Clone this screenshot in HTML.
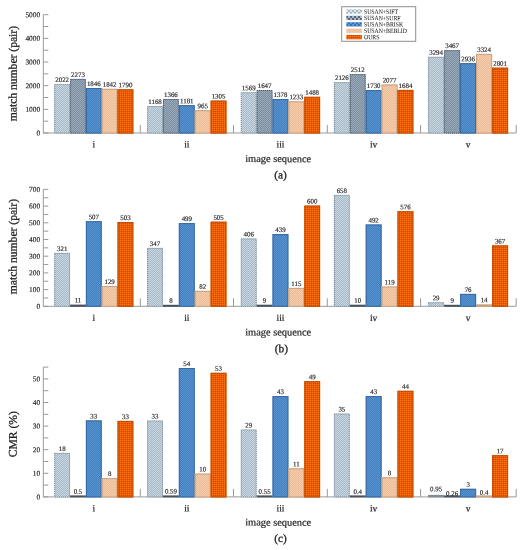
<!DOCTYPE html><html><head><meta charset="utf-8"><title>Bar charts</title><style>html,body{margin:0;padding:0;background:#fff;}svg{display:block;will-change:transform;}</style></head><body>
<svg width="525" height="550" viewBox="0 0 525 550" font-family='"Liberation Serif", serif'>
<defs>
<pattern id="p0" width="2" height="2" patternUnits="userSpaceOnUse"><rect width="2" height="2" fill="#a8bac7"/><rect width="1" height="1" fill="#c8d6e0"/><rect x="1" y="1" width="1" height="1" fill="#c8d6e0"/></pattern>
<pattern id="p1" width="2" height="2" patternUnits="userSpaceOnUse"><rect width="2" height="2" fill="#7d8fa1"/><rect width="1" height="1" fill="#97a8b8"/><rect x="1" y="1" width="1" height="1" fill="#97a8b8"/></pattern>
<pattern id="p2" width="2" height="2" patternUnits="userSpaceOnUse"><rect width="2" height="2" fill="#4280bf"/><rect width="1" height="1" fill="#5893cf"/><rect x="1" y="1" width="1" height="1" fill="#5893cf"/></pattern>
<pattern id="p3" width="2" height="2" patternUnits="userSpaceOnUse"><rect width="2" height="2" fill="#ecbe9a"/><rect width="1" height="1" fill="#f3cbaa"/><rect x="1" y="1" width="1" height="1" fill="#f3cbaa"/></pattern>
<pattern id="p4" width="2" height="2" patternUnits="userSpaceOnUse"><rect width="2" height="2" fill="#ea5e06"/><rect width="1" height="1" fill="#fb7012"/><rect x="1" y="1" width="1" height="1" fill="#c84a00"/></pattern>
<pattern id="l0" width="4" height="4" patternUnits="userSpaceOnUse"><rect width="4" height="4" fill="#a3b6c4"/><rect width="2" height="2" fill="#dbe5ec"/><rect x="2" y="2" width="2" height="2" fill="#dbe5ec"/></pattern>
<pattern id="l1" width="4" height="4" patternUnits="userSpaceOnUse"><rect width="4" height="4" fill="#56697c"/><rect width="2" height="2" fill="#a6b6c5"/><rect x="2" y="2" width="2" height="2" fill="#a6b6c5"/></pattern>
<pattern id="l2" width="4" height="4" patternUnits="userSpaceOnUse"><rect width="4" height="4" fill="#3572b6"/><rect width="2" height="2" fill="#5c97d3"/><rect x="2" y="2" width="2" height="2" fill="#5c97d3"/></pattern>
</defs>
<rect width="525" height="550" fill="#fff"/>
<path d="M43.3 14.7V133H516.2" fill="none" stroke="#999999" stroke-width="1"/>
<rect x="54.25" y="84" width="15.82" height="49.5" fill="url(#p0)"/>
<rect x="54.75" y="84.5" width="14.82" height="48.5" fill="none" stroke="#7d8c97" stroke-width="1" stroke-dasharray="1 1"/>
<rect x="70.07" y="78.9" width="15.82" height="54.6" fill="url(#p1)"/>
<rect x="70.57" y="79.4" width="14.82" height="53.6" fill="none" stroke="#47525d" stroke-width="1" stroke-dasharray="1 1"/>
<rect x="85.89" y="88" width="15.82" height="45.5" fill="url(#p2)"/>
<rect x="86.39" y="88.5" width="14.82" height="44.5" fill="none" stroke="#3869a0" stroke-width="1"/>
<rect x="101.71" y="88.8" width="15.82" height="44.7" fill="url(#p3)"/>
<rect x="102.21" y="89.3" width="14.82" height="43.7" fill="none" stroke="#c9a283" stroke-width="1"/>
<rect x="117.53" y="89.3" width="15.82" height="44.2" fill="url(#p4)"/>
<rect x="118.03" y="89.8" width="14.82" height="43.2" fill="none" stroke="#c04e06" stroke-width="1"/>
<rect x="147.1" y="106" width="15.88" height="27.5" fill="url(#p0)"/>
<rect x="147.6" y="106.5" width="14.88" height="26.5" fill="none" stroke="#7d8c97" stroke-width="1" stroke-dasharray="1 1"/>
<rect x="162.98" y="99" width="15.88" height="34.5" fill="url(#p1)"/>
<rect x="163.48" y="99.5" width="14.88" height="33.5" fill="none" stroke="#47525d" stroke-width="1" stroke-dasharray="1 1"/>
<rect x="178.86" y="105.2" width="15.88" height="28.3" fill="url(#p2)"/>
<rect x="179.36" y="105.7" width="14.88" height="27.3" fill="none" stroke="#3869a0" stroke-width="1"/>
<rect x="194.74" y="110.2" width="15.88" height="23.3" fill="url(#p3)"/>
<rect x="195.24" y="110.7" width="14.88" height="22.3" fill="none" stroke="#c9a283" stroke-width="1"/>
<rect x="210.62" y="100.6" width="15.88" height="32.9" fill="url(#p4)"/>
<rect x="211.12" y="101.1" width="14.88" height="31.9" fill="none" stroke="#c04e06" stroke-width="1"/>
<rect x="240.8" y="92.2" width="15.86" height="41.3" fill="url(#p0)"/>
<rect x="241.3" y="92.7" width="14.86" height="40.3" fill="none" stroke="#7d8c97" stroke-width="1" stroke-dasharray="1 1"/>
<rect x="256.66" y="90" width="15.86" height="43.5" fill="url(#p1)"/>
<rect x="257.16" y="90.5" width="14.86" height="42.5" fill="none" stroke="#47525d" stroke-width="1" stroke-dasharray="1 1"/>
<rect x="272.52" y="99" width="15.86" height="34.5" fill="url(#p2)"/>
<rect x="273.02" y="99.5" width="14.86" height="33.5" fill="none" stroke="#3869a0" stroke-width="1"/>
<rect x="288.38" y="101.3" width="15.86" height="32.2" fill="url(#p3)"/>
<rect x="288.88" y="101.8" width="14.86" height="31.2" fill="none" stroke="#c9a283" stroke-width="1"/>
<rect x="304.24" y="96.8" width="15.86" height="36.7" fill="url(#p4)"/>
<rect x="304.74" y="97.3" width="14.86" height="35.7" fill="none" stroke="#c04e06" stroke-width="1"/>
<rect x="333.9" y="82.1" width="15.9" height="51.4" fill="url(#p0)"/>
<rect x="334.4" y="82.6" width="14.9" height="50.4" fill="none" stroke="#7d8c97" stroke-width="1" stroke-dasharray="1 1"/>
<rect x="349.8" y="74.1" width="15.9" height="59.4" fill="url(#p1)"/>
<rect x="350.3" y="74.6" width="14.9" height="58.4" fill="none" stroke="#47525d" stroke-width="1" stroke-dasharray="1 1"/>
<rect x="365.7" y="90.1" width="15.9" height="43.4" fill="url(#p2)"/>
<rect x="366.2" y="90.6" width="14.9" height="42.4" fill="none" stroke="#3869a0" stroke-width="1"/>
<rect x="381.6" y="84.5" width="15.9" height="49" fill="url(#p3)"/>
<rect x="382.1" y="85" width="14.9" height="48" fill="none" stroke="#c9a283" stroke-width="1"/>
<rect x="397.5" y="89.9" width="15.9" height="43.6" fill="url(#p4)"/>
<rect x="398" y="90.4" width="14.9" height="42.6" fill="none" stroke="#c04e06" stroke-width="1"/>
<rect x="428.1" y="56.8" width="16" height="76.7" fill="url(#p0)"/>
<rect x="428.6" y="57.3" width="15" height="75.7" fill="none" stroke="#7d8c97" stroke-width="1" stroke-dasharray="1 1"/>
<rect x="444.1" y="50.1" width="16" height="83.4" fill="url(#p1)"/>
<rect x="444.6" y="50.6" width="15" height="82.4" fill="none" stroke="#47525d" stroke-width="1" stroke-dasharray="1 1"/>
<rect x="460.1" y="63.2" width="16" height="70.3" fill="url(#p2)"/>
<rect x="460.6" y="63.7" width="15" height="69.3" fill="none" stroke="#3869a0" stroke-width="1"/>
<rect x="476.1" y="53.9" width="16" height="79.6" fill="url(#p3)"/>
<rect x="476.6" y="54.4" width="15" height="78.6" fill="none" stroke="#c9a283" stroke-width="1"/>
<rect x="492.1" y="67.7" width="16" height="65.8" fill="url(#p4)"/>
<rect x="492.6" y="68.2" width="15" height="64.8" fill="none" stroke="#c04e06" stroke-width="1"/>
<path d="M43.3 133H48.3" stroke="#999999" stroke-width="1"/>
<path d="M43.3 121.17H48.3" stroke="#999999" stroke-width="1"/>
<path d="M43.3 109.34H48.3" stroke="#999999" stroke-width="1"/>
<path d="M43.3 97.51H48.3" stroke="#999999" stroke-width="1"/>
<path d="M43.3 85.68H48.3" stroke="#999999" stroke-width="1"/>
<path d="M43.3 73.85H48.3" stroke="#999999" stroke-width="1"/>
<path d="M43.3 62.02H48.3" stroke="#999999" stroke-width="1"/>
<path d="M43.3 50.19H48.3" stroke="#999999" stroke-width="1"/>
<path d="M43.3 38.36H48.3" stroke="#999999" stroke-width="1"/>
<path d="M43.3 26.53H48.3" stroke="#999999" stroke-width="1"/>
<path d="M43.3 14.7H48.3" stroke="#999999" stroke-width="1"/>
<path d="M140.3 133V125" stroke="#999999" stroke-width="1"/>
<path d="M233.5 133V125" stroke="#999999" stroke-width="1"/>
<path d="M327.3 133V125" stroke="#999999" stroke-width="1"/>
<path d="M420.6 133V125" stroke="#999999" stroke-width="1"/>
<path d="M516.2 133V125" stroke="#999999" stroke-width="1"/>
<path d="M43.3 189.4V306.3H516.2" fill="none" stroke="#999999" stroke-width="1"/>
<rect x="54.25" y="252.9" width="15.82" height="53.9" fill="url(#p0)"/>
<rect x="54.75" y="253.4" width="14.82" height="52.9" fill="none" stroke="#7d8c97" stroke-width="1" stroke-dasharray="1 1"/>
<rect x="70.07" y="304.6" width="15.82" height="2.2" fill="#47525d"/>
<rect x="85.89" y="221.2" width="15.82" height="85.6" fill="url(#p2)"/>
<rect x="86.39" y="221.7" width="14.82" height="84.6" fill="none" stroke="#3869a0" stroke-width="1"/>
<rect x="101.71" y="286" width="15.82" height="20.8" fill="url(#p3)"/>
<rect x="102.21" y="286.5" width="14.82" height="19.8" fill="none" stroke="#c9a283" stroke-width="1"/>
<rect x="117.53" y="222" width="15.82" height="84.8" fill="url(#p4)"/>
<rect x="118.03" y="222.5" width="14.82" height="83.8" fill="none" stroke="#c04e06" stroke-width="1"/>
<rect x="147.1" y="247.9" width="15.88" height="58.9" fill="url(#p0)"/>
<rect x="147.6" y="248.4" width="14.88" height="57.9" fill="none" stroke="#7d8c97" stroke-width="1" stroke-dasharray="1 1"/>
<rect x="162.98" y="304.8" width="15.88" height="2" fill="#47525d"/>
<rect x="178.86" y="223.1" width="15.88" height="83.7" fill="url(#p2)"/>
<rect x="179.36" y="223.6" width="14.88" height="82.7" fill="none" stroke="#3869a0" stroke-width="1"/>
<rect x="194.74" y="290.8" width="15.88" height="16" fill="url(#p3)"/>
<rect x="195.24" y="291.3" width="14.88" height="15" fill="none" stroke="#c9a283" stroke-width="1"/>
<rect x="210.62" y="221.7" width="15.88" height="85.1" fill="url(#p4)"/>
<rect x="211.12" y="222.2" width="14.88" height="84.1" fill="none" stroke="#c04e06" stroke-width="1"/>
<rect x="240.8" y="238.4" width="15.86" height="68.4" fill="url(#p0)"/>
<rect x="241.3" y="238.9" width="14.86" height="67.4" fill="none" stroke="#7d8c97" stroke-width="1" stroke-dasharray="1 1"/>
<rect x="256.66" y="304.7" width="15.86" height="2.1" fill="#47525d"/>
<rect x="272.52" y="234.1" width="15.86" height="72.7" fill="url(#p2)"/>
<rect x="273.02" y="234.6" width="14.86" height="71.7" fill="none" stroke="#3869a0" stroke-width="1"/>
<rect x="288.38" y="287.9" width="15.86" height="18.9" fill="url(#p3)"/>
<rect x="288.88" y="288.4" width="14.86" height="17.9" fill="none" stroke="#c9a283" stroke-width="1"/>
<rect x="304.24" y="205.6" width="15.86" height="101.2" fill="url(#p4)"/>
<rect x="304.74" y="206.1" width="14.86" height="100.2" fill="none" stroke="#c04e06" stroke-width="1"/>
<rect x="333.9" y="194.9" width="15.9" height="111.9" fill="url(#p0)"/>
<rect x="334.4" y="195.4" width="14.9" height="110.9" fill="none" stroke="#7d8c97" stroke-width="1" stroke-dasharray="1 1"/>
<rect x="349.8" y="304.7" width="15.9" height="2.1" fill="#47525d"/>
<rect x="365.7" y="224.5" width="15.9" height="82.3" fill="url(#p2)"/>
<rect x="366.2" y="225" width="14.9" height="81.3" fill="none" stroke="#3869a0" stroke-width="1"/>
<rect x="381.6" y="286.5" width="15.9" height="20.3" fill="url(#p3)"/>
<rect x="382.1" y="287" width="14.9" height="19.3" fill="none" stroke="#c9a283" stroke-width="1"/>
<rect x="397.5" y="211.2" width="15.9" height="95.6" fill="url(#p4)"/>
<rect x="398" y="211.7" width="14.9" height="94.6" fill="none" stroke="#c04e06" stroke-width="1"/>
<rect x="428.1" y="302.2" width="16" height="4.6" fill="url(#p0)"/>
<rect x="428.6" y="302.7" width="15" height="3.6" fill="none" stroke="#7d8c97" stroke-width="1" stroke-dasharray="1 1"/>
<rect x="444.1" y="304.8" width="16" height="2" fill="#47525d"/>
<rect x="460.1" y="293.9" width="16" height="12.9" fill="url(#p2)"/>
<rect x="460.6" y="294.4" width="15" height="11.9" fill="none" stroke="#3869a0" stroke-width="1"/>
<rect x="476.1" y="304.3" width="16" height="2.5" fill="#c9a283"/>
<rect x="492.1" y="245.4" width="16" height="61.4" fill="url(#p4)"/>
<rect x="492.6" y="245.9" width="15" height="60.4" fill="none" stroke="#c04e06" stroke-width="1"/>
<path d="M43.3 306.3H48.3" stroke="#999999" stroke-width="1"/>
<path d="M43.3 297.95H48.3" stroke="#999999" stroke-width="1"/>
<path d="M43.3 289.6H48.3" stroke="#999999" stroke-width="1"/>
<path d="M43.3 281.25H48.3" stroke="#999999" stroke-width="1"/>
<path d="M43.3 272.9H48.3" stroke="#999999" stroke-width="1"/>
<path d="M43.3 264.55H48.3" stroke="#999999" stroke-width="1"/>
<path d="M43.3 256.2H48.3" stroke="#999999" stroke-width="1"/>
<path d="M43.3 247.85H48.3" stroke="#999999" stroke-width="1"/>
<path d="M43.3 239.5H48.3" stroke="#999999" stroke-width="1"/>
<path d="M43.3 231.15H48.3" stroke="#999999" stroke-width="1"/>
<path d="M43.3 222.8H48.3" stroke="#999999" stroke-width="1"/>
<path d="M43.3 214.45H48.3" stroke="#999999" stroke-width="1"/>
<path d="M43.3 206.1H48.3" stroke="#999999" stroke-width="1"/>
<path d="M43.3 197.75H48.3" stroke="#999999" stroke-width="1"/>
<path d="M43.3 189.4H48.3" stroke="#999999" stroke-width="1"/>
<path d="M140.3 306.3V298.3" stroke="#999999" stroke-width="1"/>
<path d="M233.5 306.3V298.3" stroke="#999999" stroke-width="1"/>
<path d="M327.3 306.3V298.3" stroke="#999999" stroke-width="1"/>
<path d="M420.6 306.3V298.3" stroke="#999999" stroke-width="1"/>
<path d="M516.2 306.3V298.3" stroke="#999999" stroke-width="1"/>
<path d="M43.3 367.1V496.9H516.2" fill="none" stroke="#999999" stroke-width="1"/>
<rect x="54.25" y="452.9" width="15.82" height="44.5" fill="url(#p0)"/>
<rect x="54.75" y="453.4" width="14.82" height="43.5" fill="none" stroke="#7d8c97" stroke-width="1" stroke-dasharray="1 1"/>
<rect x="70.07" y="495.4" width="15.82" height="2" fill="#47525d"/>
<rect x="85.89" y="420.4" width="15.82" height="77" fill="url(#p2)"/>
<rect x="86.39" y="420.9" width="14.82" height="76" fill="none" stroke="#3869a0" stroke-width="1"/>
<rect x="101.71" y="478.1" width="15.82" height="19.3" fill="url(#p3)"/>
<rect x="102.21" y="478.6" width="14.82" height="18.3" fill="none" stroke="#c9a283" stroke-width="1"/>
<rect x="117.53" y="420.9" width="15.82" height="76.5" fill="url(#p4)"/>
<rect x="118.03" y="421.4" width="14.82" height="75.5" fill="none" stroke="#c04e06" stroke-width="1"/>
<rect x="147.1" y="420.5" width="15.88" height="76.9" fill="url(#p0)"/>
<rect x="147.6" y="421" width="14.88" height="75.9" fill="none" stroke="#7d8c97" stroke-width="1" stroke-dasharray="1 1"/>
<rect x="162.98" y="495.4" width="15.88" height="2" fill="#47525d"/>
<rect x="178.86" y="368" width="15.88" height="129.4" fill="url(#p2)"/>
<rect x="179.36" y="368.5" width="14.88" height="128.4" fill="none" stroke="#3869a0" stroke-width="1"/>
<rect x="194.74" y="473.6" width="15.88" height="23.8" fill="url(#p3)"/>
<rect x="195.24" y="474.1" width="14.88" height="22.8" fill="none" stroke="#c9a283" stroke-width="1"/>
<rect x="210.62" y="372.8" width="15.88" height="124.6" fill="url(#p4)"/>
<rect x="211.12" y="373.3" width="14.88" height="123.6" fill="none" stroke="#c04e06" stroke-width="1"/>
<rect x="240.8" y="429.5" width="15.86" height="67.9" fill="url(#p0)"/>
<rect x="241.3" y="430" width="14.86" height="66.9" fill="none" stroke="#7d8c97" stroke-width="1" stroke-dasharray="1 1"/>
<rect x="256.66" y="495.4" width="15.86" height="2" fill="#47525d"/>
<rect x="272.52" y="396.1" width="15.86" height="101.3" fill="url(#p2)"/>
<rect x="273.02" y="396.6" width="14.86" height="100.3" fill="none" stroke="#3869a0" stroke-width="1"/>
<rect x="288.38" y="468.3" width="15.86" height="29.1" fill="url(#p3)"/>
<rect x="288.88" y="468.8" width="14.86" height="28.1" fill="none" stroke="#c9a283" stroke-width="1"/>
<rect x="304.24" y="381.2" width="15.86" height="116.2" fill="url(#p4)"/>
<rect x="304.74" y="381.7" width="14.86" height="115.2" fill="none" stroke="#c04e06" stroke-width="1"/>
<rect x="333.9" y="413.5" width="15.9" height="83.9" fill="url(#p0)"/>
<rect x="334.4" y="414" width="14.9" height="82.9" fill="none" stroke="#7d8c97" stroke-width="1" stroke-dasharray="1 1"/>
<rect x="349.8" y="495.4" width="15.9" height="2" fill="#47525d"/>
<rect x="365.7" y="396.1" width="15.9" height="101.3" fill="url(#p2)"/>
<rect x="366.2" y="396.6" width="14.9" height="100.3" fill="none" stroke="#3869a0" stroke-width="1"/>
<rect x="381.6" y="477.3" width="15.9" height="20.1" fill="url(#p3)"/>
<rect x="382.1" y="477.8" width="14.9" height="19.1" fill="none" stroke="#c9a283" stroke-width="1"/>
<rect x="397.5" y="390.8" width="15.9" height="106.6" fill="url(#p4)"/>
<rect x="398" y="391.3" width="14.9" height="105.6" fill="none" stroke="#c04e06" stroke-width="1"/>
<rect x="428.1" y="494.9" width="16" height="2.5" fill="#7d8c97"/>
<rect x="444.1" y="495.4" width="16" height="2" fill="#47525d"/>
<rect x="460.1" y="488.8" width="16" height="8.6" fill="url(#p2)"/>
<rect x="460.6" y="489.3" width="15" height="7.6" fill="none" stroke="#3869a0" stroke-width="1"/>
<rect x="476.1" y="495.4" width="16" height="2" fill="#c9a283"/>
<rect x="492.1" y="455.2" width="16" height="42.2" fill="url(#p4)"/>
<rect x="492.6" y="455.7" width="15" height="41.2" fill="none" stroke="#c04e06" stroke-width="1"/>
<path d="M43.3 496.9H48.3" stroke="#999999" stroke-width="1"/>
<path d="M43.3 485.1H48.3" stroke="#999999" stroke-width="1"/>
<path d="M43.3 473.3H48.3" stroke="#999999" stroke-width="1"/>
<path d="M43.3 461.5H48.3" stroke="#999999" stroke-width="1"/>
<path d="M43.3 449.7H48.3" stroke="#999999" stroke-width="1"/>
<path d="M43.3 437.9H48.3" stroke="#999999" stroke-width="1"/>
<path d="M43.3 426.1H48.3" stroke="#999999" stroke-width="1"/>
<path d="M43.3 414.3H48.3" stroke="#999999" stroke-width="1"/>
<path d="M43.3 402.5H48.3" stroke="#999999" stroke-width="1"/>
<path d="M43.3 390.7H48.3" stroke="#999999" stroke-width="1"/>
<path d="M43.3 378.9H48.3" stroke="#999999" stroke-width="1"/>
<path d="M43.3 367.1H48.3" stroke="#999999" stroke-width="1"/>
<path d="M140.3 496.9V488.9" stroke="#999999" stroke-width="1"/>
<path d="M233.5 496.9V488.9" stroke="#999999" stroke-width="1"/>
<path d="M327.3 496.9V488.9" stroke="#999999" stroke-width="1"/>
<path d="M420.6 496.9V488.9" stroke="#999999" stroke-width="1"/>
<path d="M516.2 496.9V488.9" stroke="#999999" stroke-width="1"/>
<rect x="341.7" y="6.7" width="74" height="34.6" fill="#fff" stroke="#8f8f8f" stroke-width="1"/>
<rect x="346.3" y="9.4" width="15.6" height="4.3" fill="url(#l0)"/>
<rect x="346.3" y="15.8" width="15.6" height="4.3" fill="url(#l1)"/>
<rect x="346.3" y="22.2" width="15.6" height="4.3" fill="url(#l2)"/>
<rect x="346.3" y="28.6" width="15.6" height="4.3" fill="url(#p3)"/>
<rect x="346.3" y="35" width="15.6" height="4.3" fill="url(#p4)"/>
<g stroke="#1e1e1e" stroke-width="0.16">
<text transform="translate(62.16 82) rotate(0.2)" font-size="6.9" text-anchor="middle" fill="#1e1e1e" stroke-width="0.16">2022</text>
<text transform="translate(77.98 76.9) rotate(0.2)" font-size="6.9" text-anchor="middle" fill="#1e1e1e" stroke-width="0.16">2273</text>
<text transform="translate(93.8 86) rotate(0.2)" font-size="6.9" text-anchor="middle" fill="#1e1e1e" stroke-width="0.16">1846</text>
<text transform="translate(109.62 86.8) rotate(0.2)" font-size="6.9" text-anchor="middle" fill="#1e1e1e" stroke-width="0.16">1842</text>
<text transform="translate(125.44 87.3) rotate(0.2)" font-size="6.9" text-anchor="middle" fill="#1e1e1e" stroke-width="0.16">1790</text>
<text transform="translate(155.04 104) rotate(0.2)" font-size="6.9" text-anchor="middle" fill="#1e1e1e" stroke-width="0.16">1168</text>
<text transform="translate(170.92 97) rotate(0.2)" font-size="6.9" text-anchor="middle" fill="#1e1e1e" stroke-width="0.16">1366</text>
<text transform="translate(186.8 103.2) rotate(0.2)" font-size="6.9" text-anchor="middle" fill="#1e1e1e" stroke-width="0.16">1181</text>
<text transform="translate(202.68 108.2) rotate(0.2)" font-size="6.9" text-anchor="middle" fill="#1e1e1e" stroke-width="0.16">965</text>
<text transform="translate(218.56 98.6) rotate(0.2)" font-size="6.9" text-anchor="middle" fill="#1e1e1e" stroke-width="0.16">1305</text>
<text transform="translate(248.73 90.2) rotate(0.2)" font-size="6.9" text-anchor="middle" fill="#1e1e1e" stroke-width="0.16">1569</text>
<text transform="translate(264.59 88) rotate(0.2)" font-size="6.9" text-anchor="middle" fill="#1e1e1e" stroke-width="0.16">1647</text>
<text transform="translate(280.45 97) rotate(0.2)" font-size="6.9" text-anchor="middle" fill="#1e1e1e" stroke-width="0.16">1378</text>
<text transform="translate(296.31 99.3) rotate(0.2)" font-size="6.9" text-anchor="middle" fill="#1e1e1e" stroke-width="0.16">1233</text>
<text transform="translate(312.17 94.8) rotate(0.2)" font-size="6.9" text-anchor="middle" fill="#1e1e1e" stroke-width="0.16">1488</text>
<text transform="translate(341.85 80.1) rotate(0.2)" font-size="6.9" text-anchor="middle" fill="#1e1e1e" stroke-width="0.16">2126</text>
<text transform="translate(357.75 72.1) rotate(0.2)" font-size="6.9" text-anchor="middle" fill="#1e1e1e" stroke-width="0.16">2512</text>
<text transform="translate(373.65 88.1) rotate(0.2)" font-size="6.9" text-anchor="middle" fill="#1e1e1e" stroke-width="0.16">1730</text>
<text transform="translate(389.55 82.5) rotate(0.2)" font-size="6.9" text-anchor="middle" fill="#1e1e1e" stroke-width="0.16">2077</text>
<text transform="translate(405.45 87.9) rotate(0.2)" font-size="6.9" text-anchor="middle" fill="#1e1e1e" stroke-width="0.16">1684</text>
<text transform="translate(436.1 54.8) rotate(0.2)" font-size="6.9" text-anchor="middle" fill="#1e1e1e" stroke-width="0.16">3294</text>
<text transform="translate(452.1 48.1) rotate(0.2)" font-size="6.9" text-anchor="middle" fill="#1e1e1e" stroke-width="0.16">3467</text>
<text transform="translate(468.1 61.2) rotate(0.2)" font-size="6.9" text-anchor="middle" fill="#1e1e1e" stroke-width="0.16">2936</text>
<text transform="translate(484.1 51.9) rotate(0.2)" font-size="6.9" text-anchor="middle" fill="#1e1e1e" stroke-width="0.16">3324</text>
<text transform="translate(500.1 65.7) rotate(0.2)" font-size="6.9" text-anchor="middle" fill="#1e1e1e" stroke-width="0.16">2801</text>
<text transform="translate(40.2 135.5) rotate(0.2)" font-size="7.4" text-anchor="end" fill="#1e1e1e" stroke-width="0.16">0</text>
<text transform="translate(40.2 111.84) rotate(0.2)" font-size="7.4" text-anchor="end" fill="#1e1e1e" stroke-width="0.16">1000</text>
<text transform="translate(40.2 88.18) rotate(0.2)" font-size="7.4" text-anchor="end" fill="#1e1e1e" stroke-width="0.16">2000</text>
<text transform="translate(40.2 64.52) rotate(0.2)" font-size="7.4" text-anchor="end" fill="#1e1e1e" stroke-width="0.16">3000</text>
<text transform="translate(40.2 40.86) rotate(0.2)" font-size="7.4" text-anchor="end" fill="#1e1e1e" stroke-width="0.16">4000</text>
<text transform="translate(40.2 17.2) rotate(0.2)" font-size="7.4" text-anchor="end" fill="#1e1e1e" stroke-width="0.16">5000</text>
<text transform="translate(93.8 147.5) rotate(0.2)" font-size="9.5" text-anchor="middle" fill="#1e1e1e" stroke-width="0.2">i</text>
<text transform="translate(186.8 147.5) rotate(0.2)" font-size="9.5" text-anchor="middle" fill="#1e1e1e" stroke-width="0.2">ii</text>
<text transform="translate(280.45 147.5) rotate(0.2)" font-size="9.5" text-anchor="middle" fill="#1e1e1e" stroke-width="0.2">iii</text>
<text transform="translate(373.65 147.5) rotate(0.2)" font-size="9.5" text-anchor="middle" fill="#1e1e1e" stroke-width="0.2">iv</text>
<text transform="translate(468.1 147.5) rotate(0.2)" font-size="9.5" text-anchor="middle" fill="#1e1e1e" stroke-width="0.2">v</text>
<text transform="translate(278.2 162.1) rotate(0.2)" font-size="10.4" text-anchor="middle" fill="#1e1e1e" stroke-width="0.2">image sequence</text>
<text transform="translate(280.6 178.6) rotate(0.2)" font-size="11.3" text-anchor="middle" fill="#1e1e1e" stroke-width="0.3">(a)</text>
<text transform="translate(16.7 73.6) rotate(-89.8)" font-size="11.6" text-anchor="middle" fill="#1e1e1e" stroke-width="0.3">match number (pair)</text>
<text transform="translate(62.16 250.9) rotate(0.2)" font-size="6.9" text-anchor="middle" fill="#1e1e1e" stroke-width="0.16">321</text>
<text transform="translate(77.98 302.6) rotate(0.2)" font-size="6.9" text-anchor="middle" fill="#1e1e1e" stroke-width="0.16">11</text>
<text transform="translate(93.8 219.2) rotate(0.2)" font-size="6.9" text-anchor="middle" fill="#1e1e1e" stroke-width="0.16">507</text>
<text transform="translate(109.62 284) rotate(0.2)" font-size="6.9" text-anchor="middle" fill="#1e1e1e" stroke-width="0.16">129</text>
<text transform="translate(125.44 220) rotate(0.2)" font-size="6.9" text-anchor="middle" fill="#1e1e1e" stroke-width="0.16">503</text>
<text transform="translate(155.04 245.9) rotate(0.2)" font-size="6.9" text-anchor="middle" fill="#1e1e1e" stroke-width="0.16">347</text>
<text transform="translate(170.92 302.8) rotate(0.2)" font-size="6.9" text-anchor="middle" fill="#1e1e1e" stroke-width="0.16">8</text>
<text transform="translate(186.8 221.1) rotate(0.2)" font-size="6.9" text-anchor="middle" fill="#1e1e1e" stroke-width="0.16">499</text>
<text transform="translate(202.68 288.8) rotate(0.2)" font-size="6.9" text-anchor="middle" fill="#1e1e1e" stroke-width="0.16">82</text>
<text transform="translate(218.56 219.7) rotate(0.2)" font-size="6.9" text-anchor="middle" fill="#1e1e1e" stroke-width="0.16">505</text>
<text transform="translate(248.73 236.4) rotate(0.2)" font-size="6.9" text-anchor="middle" fill="#1e1e1e" stroke-width="0.16">406</text>
<text transform="translate(264.59 302.7) rotate(0.2)" font-size="6.9" text-anchor="middle" fill="#1e1e1e" stroke-width="0.16">9</text>
<text transform="translate(280.45 232.1) rotate(0.2)" font-size="6.9" text-anchor="middle" fill="#1e1e1e" stroke-width="0.16">439</text>
<text transform="translate(296.31 285.9) rotate(0.2)" font-size="6.9" text-anchor="middle" fill="#1e1e1e" stroke-width="0.16">115</text>
<text transform="translate(312.17 203.6) rotate(0.2)" font-size="6.9" text-anchor="middle" fill="#1e1e1e" stroke-width="0.16">600</text>
<text transform="translate(341.85 192.9) rotate(0.2)" font-size="6.9" text-anchor="middle" fill="#1e1e1e" stroke-width="0.16">658</text>
<text transform="translate(357.75 302.7) rotate(0.2)" font-size="6.9" text-anchor="middle" fill="#1e1e1e" stroke-width="0.16">10</text>
<text transform="translate(373.65 222.5) rotate(0.2)" font-size="6.9" text-anchor="middle" fill="#1e1e1e" stroke-width="0.16">492</text>
<text transform="translate(389.55 284.5) rotate(0.2)" font-size="6.9" text-anchor="middle" fill="#1e1e1e" stroke-width="0.16">119</text>
<text transform="translate(405.45 209.2) rotate(0.2)" font-size="6.9" text-anchor="middle" fill="#1e1e1e" stroke-width="0.16">576</text>
<text transform="translate(436.1 300.2) rotate(0.2)" font-size="6.9" text-anchor="middle" fill="#1e1e1e" stroke-width="0.16">29</text>
<text transform="translate(452.1 302.8) rotate(0.2)" font-size="6.9" text-anchor="middle" fill="#1e1e1e" stroke-width="0.16">9</text>
<text transform="translate(468.1 291.9) rotate(0.2)" font-size="6.9" text-anchor="middle" fill="#1e1e1e" stroke-width="0.16">76</text>
<text transform="translate(484.1 302.3) rotate(0.2)" font-size="6.9" text-anchor="middle" fill="#1e1e1e" stroke-width="0.16">14</text>
<text transform="translate(500.1 243.4) rotate(0.2)" font-size="6.9" text-anchor="middle" fill="#1e1e1e" stroke-width="0.16">367</text>
<text transform="translate(40.2 308.8) rotate(0.2)" font-size="7.4" text-anchor="end" fill="#1e1e1e" stroke-width="0.16">0</text>
<text transform="translate(40.2 292.1) rotate(0.2)" font-size="7.4" text-anchor="end" fill="#1e1e1e" stroke-width="0.16">100</text>
<text transform="translate(40.2 275.4) rotate(0.2)" font-size="7.4" text-anchor="end" fill="#1e1e1e" stroke-width="0.16">200</text>
<text transform="translate(40.2 258.7) rotate(0.2)" font-size="7.4" text-anchor="end" fill="#1e1e1e" stroke-width="0.16">300</text>
<text transform="translate(40.2 242) rotate(0.2)" font-size="7.4" text-anchor="end" fill="#1e1e1e" stroke-width="0.16">400</text>
<text transform="translate(40.2 225.3) rotate(0.2)" font-size="7.4" text-anchor="end" fill="#1e1e1e" stroke-width="0.16">500</text>
<text transform="translate(40.2 208.6) rotate(0.2)" font-size="7.4" text-anchor="end" fill="#1e1e1e" stroke-width="0.16">600</text>
<text transform="translate(40.2 191.9) rotate(0.2)" font-size="7.4" text-anchor="end" fill="#1e1e1e" stroke-width="0.16">700</text>
<text transform="translate(93.8 321) rotate(0.2)" font-size="9.5" text-anchor="middle" fill="#1e1e1e" stroke-width="0.2">i</text>
<text transform="translate(186.8 321) rotate(0.2)" font-size="9.5" text-anchor="middle" fill="#1e1e1e" stroke-width="0.2">ii</text>
<text transform="translate(280.45 321) rotate(0.2)" font-size="9.5" text-anchor="middle" fill="#1e1e1e" stroke-width="0.2">iii</text>
<text transform="translate(373.65 321) rotate(0.2)" font-size="9.5" text-anchor="middle" fill="#1e1e1e" stroke-width="0.2">iv</text>
<text transform="translate(468.1 321) rotate(0.2)" font-size="9.5" text-anchor="middle" fill="#1e1e1e" stroke-width="0.2">v</text>
<text transform="translate(278.2 335.5) rotate(0.2)" font-size="10.4" text-anchor="middle" fill="#1e1e1e" stroke-width="0.2">image sequence</text>
<text transform="translate(281.4 352.3) rotate(0.2)" font-size="11.3" text-anchor="middle" fill="#1e1e1e" stroke-width="0.3">(b)</text>
<text transform="translate(16.7 246.6) rotate(-89.8)" font-size="11.6" text-anchor="middle" fill="#1e1e1e" stroke-width="0.3">match number (pair)</text>
<text transform="translate(62.16 450.9) rotate(0.2)" font-size="6.9" text-anchor="middle" fill="#1e1e1e" stroke-width="0.16">18</text>
<text transform="translate(77.98 493.8) rotate(0.2)" font-size="6.9" text-anchor="middle" fill="#1e1e1e" stroke-width="0.16">0.5</text>
<text transform="translate(93.8 418.4) rotate(0.2)" font-size="6.9" text-anchor="middle" fill="#1e1e1e" stroke-width="0.16">33</text>
<text transform="translate(109.62 476.1) rotate(0.2)" font-size="6.9" text-anchor="middle" fill="#1e1e1e" stroke-width="0.16">8</text>
<text transform="translate(125.44 418.9) rotate(0.2)" font-size="6.9" text-anchor="middle" fill="#1e1e1e" stroke-width="0.16">33</text>
<text transform="translate(155.04 418.5) rotate(0.2)" font-size="6.9" text-anchor="middle" fill="#1e1e1e" stroke-width="0.16">33</text>
<text transform="translate(170.92 493.6) rotate(0.2)" font-size="6.9" text-anchor="middle" fill="#1e1e1e" stroke-width="0.16">0.59</text>
<text transform="translate(186.8 366) rotate(0.2)" font-size="6.9" text-anchor="middle" fill="#1e1e1e" stroke-width="0.16">54</text>
<text transform="translate(202.68 471.6) rotate(0.2)" font-size="6.9" text-anchor="middle" fill="#1e1e1e" stroke-width="0.16">10</text>
<text transform="translate(218.56 370.8) rotate(0.2)" font-size="6.9" text-anchor="middle" fill="#1e1e1e" stroke-width="0.16">53</text>
<text transform="translate(248.73 427.5) rotate(0.2)" font-size="6.9" text-anchor="middle" fill="#1e1e1e" stroke-width="0.16">29</text>
<text transform="translate(264.59 493.7) rotate(0.2)" font-size="6.9" text-anchor="middle" fill="#1e1e1e" stroke-width="0.16">0.55</text>
<text transform="translate(280.45 394.1) rotate(0.2)" font-size="6.9" text-anchor="middle" fill="#1e1e1e" stroke-width="0.16">43</text>
<text transform="translate(296.31 466.3) rotate(0.2)" font-size="6.9" text-anchor="middle" fill="#1e1e1e" stroke-width="0.16">11</text>
<text transform="translate(312.17 379.2) rotate(0.2)" font-size="6.9" text-anchor="middle" fill="#1e1e1e" stroke-width="0.16">49</text>
<text transform="translate(341.85 411.5) rotate(0.2)" font-size="6.9" text-anchor="middle" fill="#1e1e1e" stroke-width="0.16">35</text>
<text transform="translate(357.75 493.9) rotate(0.2)" font-size="6.9" text-anchor="middle" fill="#1e1e1e" stroke-width="0.16">0.4</text>
<text transform="translate(373.65 394.1) rotate(0.2)" font-size="6.9" text-anchor="middle" fill="#1e1e1e" stroke-width="0.16">43</text>
<text transform="translate(389.55 475.3) rotate(0.2)" font-size="6.9" text-anchor="middle" fill="#1e1e1e" stroke-width="0.16">8</text>
<text transform="translate(405.45 388.8) rotate(0.2)" font-size="6.9" text-anchor="middle" fill="#1e1e1e" stroke-width="0.16">44</text>
<text transform="translate(436.1 491.3) rotate(0.2)" font-size="6.9" text-anchor="middle" fill="#1e1e1e" stroke-width="0.16">0.95</text>
<text transform="translate(452.1 495.7) rotate(0.2)" font-size="6.9" text-anchor="middle" fill="#1e1e1e" stroke-width="0.16">0.26</text>
<text transform="translate(468.1 486.8) rotate(0.2)" font-size="6.9" text-anchor="middle" fill="#1e1e1e" stroke-width="0.16">3</text>
<text transform="translate(484.1 494.7) rotate(0.2)" font-size="6.9" text-anchor="middle" fill="#1e1e1e" stroke-width="0.16">0.4</text>
<text transform="translate(500.1 453.2) rotate(0.2)" font-size="6.9" text-anchor="middle" fill="#1e1e1e" stroke-width="0.16">17</text>
<text transform="translate(40.2 499.4) rotate(0.2)" font-size="7.4" text-anchor="end" fill="#1e1e1e" stroke-width="0.16">0</text>
<text transform="translate(40.2 475.8) rotate(0.2)" font-size="7.4" text-anchor="end" fill="#1e1e1e" stroke-width="0.16">10</text>
<text transform="translate(40.2 452.2) rotate(0.2)" font-size="7.4" text-anchor="end" fill="#1e1e1e" stroke-width="0.16">20</text>
<text transform="translate(40.2 428.6) rotate(0.2)" font-size="7.4" text-anchor="end" fill="#1e1e1e" stroke-width="0.16">30</text>
<text transform="translate(40.2 405) rotate(0.2)" font-size="7.4" text-anchor="end" fill="#1e1e1e" stroke-width="0.16">40</text>
<text transform="translate(40.2 381.4) rotate(0.2)" font-size="7.4" text-anchor="end" fill="#1e1e1e" stroke-width="0.16">50</text>
<text transform="translate(93.8 511.6) rotate(0.2)" font-size="9.5" text-anchor="middle" fill="#1e1e1e" stroke-width="0.2">i</text>
<text transform="translate(186.8 511.6) rotate(0.2)" font-size="9.5" text-anchor="middle" fill="#1e1e1e" stroke-width="0.2">ii</text>
<text transform="translate(280.45 511.6) rotate(0.2)" font-size="9.5" text-anchor="middle" fill="#1e1e1e" stroke-width="0.2">iii</text>
<text transform="translate(373.65 511.6) rotate(0.2)" font-size="9.5" text-anchor="middle" fill="#1e1e1e" stroke-width="0.2">iv</text>
<text transform="translate(468.1 511.6) rotate(0.2)" font-size="9.5" text-anchor="middle" fill="#1e1e1e" stroke-width="0.2">v</text>
<text transform="translate(278.2 525.7) rotate(0.2)" font-size="10.4" text-anchor="middle" fill="#1e1e1e" stroke-width="0.2">image sequence</text>
<text transform="translate(280.6 542.1) rotate(0.2)" font-size="11.3" text-anchor="middle" fill="#1e1e1e" stroke-width="0.3">(c)</text>
<text transform="translate(16.7 434.2) rotate(-89.8)" font-size="11.6" text-anchor="middle" fill="#1e1e1e" stroke-width="0.3">CMR (%)</text>
<text transform="translate(364 13.7) scale(0.9 1) rotate(0.2)" font-size="6.4" fill="#1e1e1e" stroke-width="0.06">SUSAN+SIFT</text>
<text transform="translate(364 20.08) scale(0.9 1) rotate(0.2)" font-size="6.4" fill="#1e1e1e" stroke-width="0.06">SUSAN+SURF</text>
<text transform="translate(364 26.46) scale(0.9 1) rotate(0.2)" font-size="6.4" fill="#1e1e1e" stroke-width="0.06">SUSAN+BRISK</text>
<text transform="translate(364 32.84) scale(0.9 1) rotate(0.2)" font-size="6.4" fill="#1e1e1e" stroke-width="0.06">SUSAN+BEBLID</text>
<text transform="translate(364 39.22) scale(0.9 1) rotate(0.2)" font-size="6.4" fill="#1e1e1e" stroke-width="0.06">OURS</text>
</g>
</svg></body></html>
